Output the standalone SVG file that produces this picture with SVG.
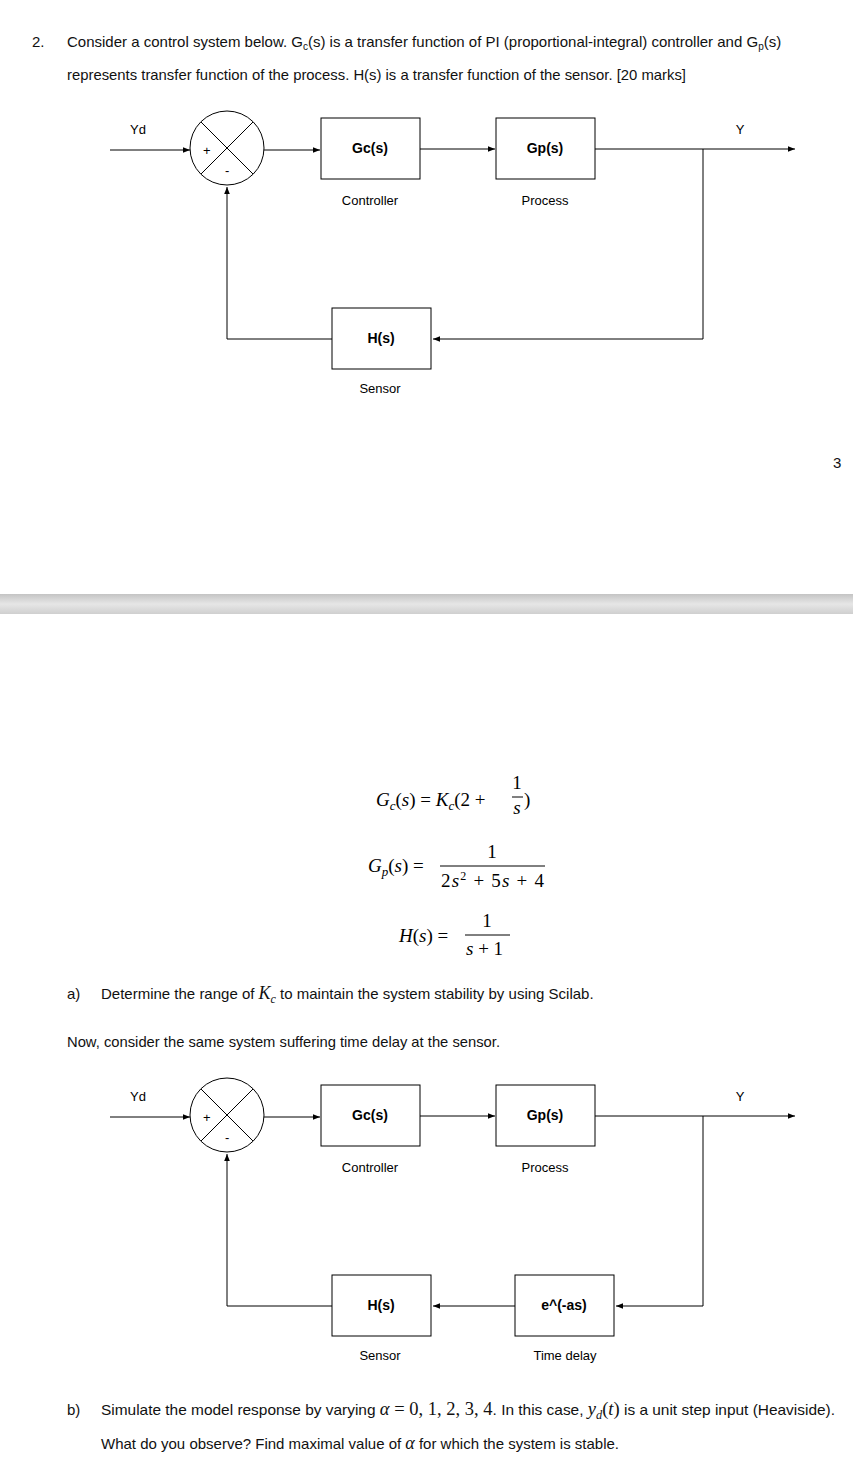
<svg xmlns="http://www.w3.org/2000/svg" width="853" height="1472" viewBox="0 0 853 1472">
<defs>
<marker id="ah" viewBox="0 0 10 10" refX="10" refY="5" markerWidth="7" markerHeight="7" orient="auto"><path d="M0,1 L10,5 L0,9 z" fill="#000"/></marker>
<linearGradient id="band" x1="0" y1="0" x2="0" y2="1"><stop offset="0" stop-color="#c4c4c4"/><stop offset="0.5" stop-color="#e6e6e6"/><stop offset="1" stop-color="#cfcfcf"/></linearGradient>
</defs>
<style>
.t{font-family:"Liberation Sans",Arial,sans-serif;font-size:15px;fill:#111}
.d{font-family:"Liberation Sans",Arial,sans-serif;font-size:13px;fill:#000}
.b{font-family:"Liberation Sans",Arial,sans-serif;font-size:14px;font-weight:bold;fill:#000;text-anchor:middle}
.box{fill:#fff;stroke:#000;stroke-width:1}
.ln{fill:none;stroke:#000;stroke-width:1}
.m{font-family:"Liberation Serif","Times New Roman",serif;font-size:19px;fill:#000}
.i{font-style:italic}
</style>
<rect width="853" height="1472" fill="#fff"/>
<text class="t" x="32" y="47">2.</text>
<text class="t" x="67" y="47">Consider a control system below. G<tspan font-size="10" dy="3">c</tspan><tspan dy="-3">(s) is a transfer function of PI (proportional-integral) controller and G</tspan><tspan font-size="10" dy="3">p</tspan><tspan dy="-3">(s)</tspan></text>
<text class="t" x="67" y="80" textLength="619" lengthAdjust="spacingAndGlyphs">represents transfer function of the process. H(s) is a transfer function of the sensor. [20 marks]</text>

<g id="diagram1">
<g id="connectors1">
<line class="ln" x1="110" y1="150" x2="190" y2="150" marker-end="url(#ah)"/>
<line class="ln" x1="264" y1="150" x2="320" y2="150" marker-end="url(#ah)"/>
<line class="ln" x1="420" y1="149" x2="495" y2="149" marker-end="url(#ah)"/>
<line class="ln" x1="595" y1="149" x2="795" y2="149" marker-end="url(#ah)"/>
<polyline class="ln" points="703,149 703,339 433,339" marker-end="url(#ah)"/>
<polyline class="ln" points="332,339 227,339 227,187" marker-end="url(#ah)"/>
</g>
<g id="sum1"><circle class="box" cx="227" cy="148" r="37"/><line class="ln" x1="201" y1="122" x2="253" y2="174"/><line class="ln" x1="253" y1="122" x2="201" y2="174"/>
<text class="d" x="203" y="155" font-size="11">+</text><text class="d" x="225" y="175" font-size="11">-</text></g>
<text class="d" x="138" y="134" text-anchor="middle">Yd</text>
<text class="d" x="740" y="134" text-anchor="middle">Y</text>
<g id="gc1"><rect class="box" x="321" y="118" width="99" height="61"/><text class="b" x="370" y="153">Gc(s)</text><text class="d" x="370" y="205" text-anchor="middle">Controller</text></g>
<g id="gp1"><rect class="box" x="496" y="118" width="99" height="61"/><text class="b" x="545" y="153">Gp(s)</text><text class="d" x="545" y="205" text-anchor="middle">Process</text></g>
<g id="h1"><rect class="box" x="332" y="308" width="99" height="61"/><text class="b" x="381" y="343">H(s)</text><text class="d" x="380" y="393" text-anchor="middle">Sensor</text></g>
</g>
<text class="t" x="833" y="468">3</text>
<rect x="0" y="594" width="853" height="20" fill="url(#band)"/>

<g id="eqs">
<text class="m" x="376" y="806"><tspan class="i">G</tspan><tspan class="i" font-size="13" dy="4">c</tspan><tspan dy="-4">(</tspan><tspan class="i">s</tspan>) =  <tspan class="i">K</tspan><tspan class="i" font-size="13" dy="4">c</tspan><tspan dy="-4">(2 +</tspan></text>
<text class="m" x="517" y="789" text-anchor="middle" font-size="17">1</text>
<line class="ln" x1="512" y1="797" x2="523" y2="797" stroke-width="1.6"/>
<text class="m i" x="517" y="814" text-anchor="middle" font-size="17">s</text>
<text class="m" x="524" y="806">)</text>
<text class="m" x="368" y="872"><tspan class="i">G</tspan><tspan class="i" font-size="13" dy="4">p</tspan><tspan dy="-4">(</tspan><tspan class="i">s</tspan>) =</text>
<text class="m" x="492" y="858" text-anchor="middle">1</text>
<line class="ln" x1="440" y1="866" x2="545" y2="866" stroke-width="1.6"/>
<text class="m" x="441" y="887" textLength="103">2<tspan class="i">s</tspan><tspan font-size="12" dy="-7">2</tspan><tspan dy="7"> + 5</tspan><tspan class="i">s</tspan> + 4</text>
<text class="m" x="399" y="942"><tspan class="i">H</tspan>(<tspan class="i">s</tspan>) =</text>
<text class="m" x="487" y="927" text-anchor="middle">1</text>
<line class="ln" x1="465" y1="935" x2="510" y2="935" stroke-width="1.6"/>
<text class="m" x="466" y="955"><tspan class="i">s</tspan> + 1</text>
</g>

<text class="t" x="67" y="999">a)</text>
<text class="t" x="101" y="999">Determine the range of <tspan font-family="Liberation Serif" font-style="italic" font-size="18"> K</tspan><tspan font-family="Liberation Serif" font-style="italic" font-size="12" dy="4">c</tspan><tspan dy="-4">  to maintain the system stability by using Scilab.</tspan></text>
<text class="t" x="67" y="1047" textLength="433" lengthAdjust="spacingAndGlyphs">Now, consider the same system suffering time delay at the sensor.</text>

<g id="diagram2">
<g id="connectors2">
<line class="ln" x1="110" y1="1117" x2="190" y2="1117" marker-end="url(#ah)"/>
<line class="ln" x1="264" y1="1117" x2="320" y2="1117" marker-end="url(#ah)"/>
<line class="ln" x1="420" y1="1116" x2="495" y2="1116" marker-end="url(#ah)"/>
<line class="ln" x1="595" y1="1116" x2="795" y2="1116" marker-end="url(#ah)"/>
<polyline class="ln" points="703,1116 703,1306 616,1306" marker-end="url(#ah)"/>
<line class="ln" x1="515" y1="1306" x2="433" y2="1306" marker-end="url(#ah)"/>
<polyline class="ln" points="332,1306 227,1306 227,1154" marker-end="url(#ah)"/>
</g>
<g id="sum2"><circle class="box" cx="227" cy="1115" r="37"/><line class="ln" x1="201" y1="1089" x2="253" y2="1141"/><line class="ln" x1="253" y1="1089" x2="201" y2="1141"/>
<text class="d" x="203" y="1122" font-size="11">+</text><text class="d" x="225" y="1142" font-size="11">-</text></g>
<text class="d" x="138" y="1101" text-anchor="middle">Yd</text>
<text class="d" x="740" y="1101" text-anchor="middle">Y</text>
<g id="gc2"><rect class="box" x="321" y="1085" width="99" height="61"/><text class="b" x="370" y="1120">Gc(s)</text><text class="d" x="370" y="1172" text-anchor="middle">Controller</text></g>
<g id="gp2"><rect class="box" x="496" y="1085" width="99" height="61"/><text class="b" x="545" y="1120">Gp(s)</text><text class="d" x="545" y="1172" text-anchor="middle">Process</text></g>
<g id="h2"><rect class="box" x="332" y="1275" width="99" height="61"/><text class="b" x="381" y="1310">H(s)</text><text class="d" x="380" y="1360" text-anchor="middle">Sensor</text></g>
<g id="delay"><rect class="box" x="515" y="1275" width="99" height="61"/><text class="b" x="564" y="1310">e^(-as)</text><text class="d" x="565" y="1360" text-anchor="middle">Time delay</text></g>
</g>

<text class="t" x="67" y="1415">b)</text>
<text class="t" x="101" y="1415" textLength="734" lengthAdjust="spacingAndGlyphs">Simulate the model response by varying <tspan font-family="Liberation Serif" font-size="18"><tspan font-style="italic">α</tspan> = 0, 1, 2, 3, 4</tspan>. In this case, <tspan font-family="Liberation Serif" font-size="18" font-style="italic">y</tspan><tspan font-family="Liberation Serif" font-style="italic" font-size="12" dy="4">d</tspan><tspan font-family="Liberation Serif" font-size="18" dy="-4">(<tspan font-style="italic">t</tspan>)</tspan>  is a unit step input (Heaviside).</text>
<text class="t" x="101" y="1449">What do you observe? Find maximal value of <tspan font-family="Liberation Serif" font-style="italic" font-size="18"> α</tspan>  for which the system is stable.</text>
</svg>
